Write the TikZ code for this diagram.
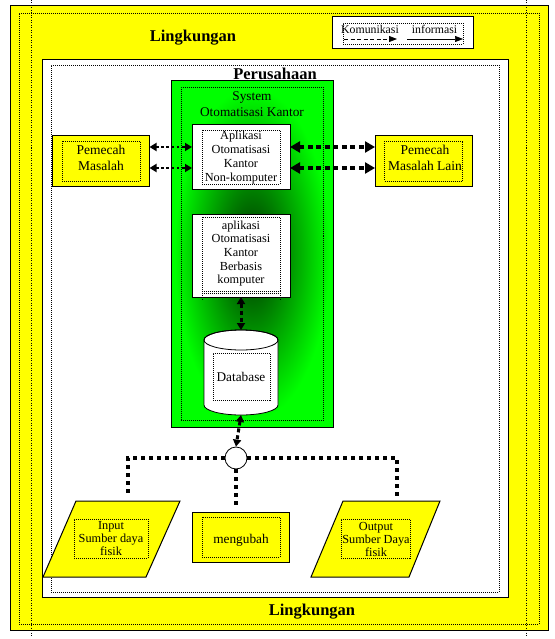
\documentclass[tikz,border=0pt]{standalone}
\usepackage{fontspec}
\setmainfont{Liberation Serif}
\usetikzlibrary{arrows.meta}
\definecolor{ylw}{RGB}{255,255,0}
\definecolor{lime}{RGB}{0,255,0}
\definecolor{dkg}{RGB}{0,90,0}
\pgfdeclareradialshading{glow}{\pgfpoint{0bp}{0bp}}{color(0bp)=(dkg); color(5bp)=(dkg); color(24bp)=(lime); color(50bp)=(lime)}
\tikzset{
  frame/.style={draw, line width=1pt, inner sep=0pt, outer sep=0pt},
  dotframe/.style={draw, line width=0.8pt, dash pattern=on 1pt off 1pt, inner sep=0pt, outer sep=0pt},
  guide/.style={line width=1pt, dash pattern=on 1pt off 1.5pt},
  txt/.style={inner sep=0pt, align=center, font=\fontsize{12.3}{13.7}\selectfont},
  bigtxt/.style={inner sep=0pt, align=center, font=\fontsize{13.5}{16}\selectfont},
  titletxt/.style={inner sep=0pt, font=\fontsize{16.5}{18}\selectfont\bfseries},
  thinlink/.style={line width=2.4pt, dash pattern=on 2.6pt off 2.6pt, {Triangle[length=7pt,width=8pt]}-{Triangle[length=7pt,width=8pt]}},
  thicklink/.style={line width=3.5pt, dash pattern=on 5pt off 3.5pt, {Triangle[length=10pt,width=11pt]}-{Triangle[length=10pt,width=11pt]}},
  vlink/.style={line width=3pt, dash pattern=on 4pt off 3pt, {Triangle[length=7pt,width=8pt]}-{Triangle[length=7pt,width=8pt]}},
  flow/.style={line width=3.5pt, dash pattern=on 4pt off 4pt},
}
\begin{document}
\begin{tikzpicture}[x=1pt,y=-1pt]
\useasboundingbox (0,0) rectangle (554,639);
% environment
\node[frame, fill=ylw, minimum width=538pt, minimum height=624pt] (env) at (279,318) {};
\node[dotframe, minimum width=520pt, minimum height=611pt] (envin) at (279,318.5) {};
\draw[guide] (31,0) -- (31,637);
\draw[guide] (526,0) -- (526,637);
\node[titletxt] (lingtop) at (193,38) {Lingkungan};
\node[titletxt] (lingbot) at (312,612) {Lingkungan};
% legend
\node[frame, fill=white, minimum width=141pt, minimum height=32pt] (leg) at (402.5,33) {};
\node[dotframe, minimum width=120pt, minimum height=21pt] (legin) at (403,33.5) {};
\node[inner sep=0pt, font=\fontsize{11.8}{13}\selectfont] (kom) at (370,29.5) {Komunikasi};
\node[inner sep=0pt, font=\fontsize{11.8}{13}\selectfont] (inf) at (434.5,29.5) {informasi};
\coordinate (k1) at (344,39); \coordinate (k2) at (397,39);
\coordinate (i1) at (407,39); \coordinate (i2) at (463,39);
\draw[line width=0.8pt, dash pattern=on 4pt off 2.5pt, -{Triangle[length=8pt,width=6pt]}] (k1) -- (k2);
\draw[line width=0.7pt, -{Triangle[length=8pt,width=6pt]}] (i1) -- (i2);
% company
\node[frame, fill=white, minimum width=466pt, minimum height=537pt] (comp) at (275.5,328.5) {};
\node[dotframe, minimum width=448pt, minimum height=527pt] (compin) at (275,328.5) {};
\node[titletxt] (perus) at (275,74) {Perusahaan};
% office automation system
\node[frame, shading=glow, minimum width=162pt, minimum height=346pt] (sys) at (252,254) {};
\node[dotframe, minimum width=142pt, minimum height=333pt] (sysin) at (252,254) {};
\node[bigtxt, font=\fontsize{13.3}{16}\selectfont] (systxt) at (252,104) {System\\Otomatisasi Kantor};
% app 1
\node[frame, fill=white, minimum width=98pt, minimum height=64pt] (app1) at (241,157) {};
\node[dotframe, minimum width=78pt, minimum height=54pt] (app1in) at (241,157) {};
\node[txt] (app1t) at (241,157.5) {Aplikasi\\Otomatisasi\\Kantor\\Non-komputer};
% app 2
\node[frame, fill=white, minimum width=98pt, minimum height=83pt] (app2) at (241,255.5) {};
\node[dotframe, minimum width=78pt, minimum height=74pt] (app2in) at (241,254) {};
\draw[line width=0.8pt, dash pattern=on 1pt off 1pt] (app2in.south west) -- ++(0,9);
\draw[line width=0.8pt, dash pattern=on 1pt off 1pt] (app2in.south east) -- ++(0,9);
\draw[line width=0.8pt, dash pattern=on 1pt off 1pt] ([yshift=-2pt]app2in.south west) -- ([yshift=-2pt]app2in.south east);
\node[txt] (app2t) at (241,253.5) {aplikasi\\Otomatisasi\\Kantor\\Berbasis\\komputer};
% database cylinder
\draw[line width=0.8pt, fill=white] (204,340) -- (204,405) arc[start angle=180, end angle=360, x radius=37pt, y radius=10pt] -- (278,340) arc[start angle=0, end angle=180, x radius=37pt, y radius=10pt] -- cycle;
\draw[line width=0.8pt] (241,340) ellipse [x radius=37pt, y radius=10pt];
\coordinate (dbtop) at (241,330);
\coordinate (dbbot) at (241,415);
\node[dotframe, minimum width=57pt, minimum height=47pt] (db) at (241.5,376.5) {};
\node[bigtxt, font=\fontsize{13.3}{15}\selectfont] (dbt) at (241,377) {Database};
% problem solvers
\node[frame, fill=ylw, minimum width=97pt, minimum height=51pt] (pm) at (101,161) {};
\node[dotframe, minimum width=78pt, minimum height=40pt] (pmin) at (101,161) {};
\node[bigtxt] (pmt) at (101,157.5) {Pemecah\\Masalah};
\node[frame, fill=ylw, minimum width=97pt, minimum height=51pt] (pml) at (423.5,161) {};
\node[dotframe, minimum width=78pt, minimum height=40pt] (pmlin) at (423.5,161) {};
\node[bigtxt] (pmlt) at (425,157.5) {Pemecah\\Masalah Lain};
% links to problem solvers
\draw[thinlink] ([yshift=14pt]pm.east) -- ([yshift=14pt]pm.east -| app1.west);
\draw[thinlink] ([yshift=-7pt]pm.east) -- ([yshift=-7pt]pm.east -| app1.west);
\draw[thicklink] ([yshift=14pt]pml.west -| app1.east) -- ([yshift=14pt]pml.west);
\draw[thicklink] ([yshift=-7pt]pml.west -| app1.east) -- ([yshift=-7pt]pml.west);
% vertical links
\draw[vlink] (app2.south) -- (dbtop);
\node[draw, fill=white, line width=0.8pt, circle, minimum size=22pt, inner sep=0pt] (hub) at (236,458) {};
\draw[vlink] (dbbot) -- (hub.north);
% bottom row
\draw[frame, fill=ylw] (76,501) -- (180,501) -- (146,577) -- (43,577) -- cycle;
\node[dotframe, minimum width=74pt, minimum height=39pt] (inpin) at (111,538.5) {};
\node[txt, font=\fontsize{12.3}{13}\selectfont] (inpt) at (111,539) {Input\\Sumber daya\\fisik};
\coordinate (inptop) at (128,497);
\node[frame, fill=ylw, minimum width=97pt, minimum height=50pt] (mub) at (240.5,537) {};
\node[dotframe, minimum width=78pt, minimum height=40pt] (mubin) at (241,537) {};
\node[bigtxt, font=\fontsize{13.3}{15}\selectfont] (mubt) at (241,540) {mengubah};
\draw[frame, fill=ylw] (343,501) -- (440,501) -- (409,577) -- (311,577) -- cycle;
\node[dotframe, minimum width=69pt, minimum height=39pt] (outin) at (375.5,538.5) {};
\node[txt, font=\fontsize{12.3}{13}\selectfont] (outt) at (376,539) {Output\\Sumber Daya\\fisik};
\coordinate (outtop) at (397,497);
\draw[flow] (hub.west) -| (inptop);
\draw[flow] (hub.east) -| (outtop);
\draw[flow, shorten >=4pt] (hub.south) -- (hub.south |- mub.north);
\end{tikzpicture}
\end{document}
